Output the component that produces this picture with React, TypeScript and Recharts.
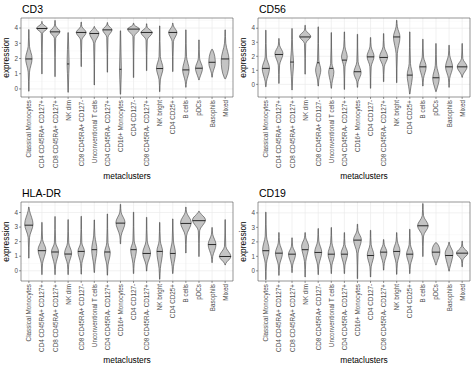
import React from 'react';
import { ComposedChart, Scatter, XAxis, YAxis, CartesianGrid, ReferenceArea } from 'recharts';

const categories = [
  'Classical Monocytes', 'CD4 CD45RA+ CD127+', 'CD8 CD45RA+ CD127+', 'NK dim',
  'CD8 CD45RA+ CD127-', 'Unconventional T cells', 'CD4 CD45RA- CD127+', 'CD16+ Monocytes',
  'CD4 CD127-', 'CD8 CD45RA- CD127+', 'NK bright', 'CD4 CD25+', 'B cells', 'pDCs',
  'Basophils', 'Mixed',
];

// each violin: [min, bodyLow, peak, bodyHigh, max, peakHalfWidth, median]
const cd3Violins = [
  [-0.15, 1.1, 2.0, 2.8, 3.9, 0.25, 1.97],
  [0.99, 3.66, 3.99, 4.28, 4.43, 0.41, 3.97],
  [0.81, 3.33, 3.77, 4.14, 4.5, 0.38, 3.75],
  [-0.22, 1.0, 1.6, 2.6, 3.7, 0.08, 1.64],
  [1.47, 3.22, 3.71, 4.1, 4.39, 0.38, 3.71],
  [0.26, 3.0, 3.66, 4.0, 4.1, 0.36, 3.64],
  [1.1, 3.4, 3.88, 4.2, 4.36, 0.36, 3.88],
  [-0.35, 0.6, 1.3, 2.1, 3.82, 0.07, 1.29],
  [0.75, 3.44, 3.93, 4.2, 4.32, 0.46, 3.93],
  [1.2, 3.22, 3.71, 4.05, 4.28, 0.44, 3.71],
  [-0.18, 0.6, 1.36, 2.13, 4.14, 0.25, 1.34],
  [1.14, 3.11, 3.71, 4.14, 4.32, 0.32, 3.71],
  [0.11, 0.48, 1.25, 2.13, 3.88, 0.25, 1.25],
  [0.59, 0.7, 1.36, 2.0, 3.22, 0.27, 1.36],
  [0.77, 1.03, 1.69, 2.57, 2.61, 0.25, 1.75],
  [0.66, 0.7, 1.9, 3.0, 3.88, 0.3, 1.97],
];

const cd56Violins = [
  [-0.17, 0.19, 1.14, 1.96, 3.86, 0.28, 1.14],
  [0.07, 1.37, 2.2, 2.79, 3.27, 0.31, 2.13],
  [-0.4, 0.54, 1.5, 2.44, 3.98, 0.12, 1.59],
  [0.73, 2.91, 3.43, 3.86, 4.21, 0.43, 3.38],
  [-0.12, 0.31, 1.02, 1.73, 4.1, 0.2, 1.54],
  [-0.28, 0.07, 0.9, 1.49, 3.69, 0.2, 1.14],
  [-0.36, 1.25, 1.96, 2.67, 3.74, 0.22, 1.73],
  [-0.21, 0.19, 0.83, 1.61, 3.57, 0.28, 0.9],
  [-0.28, 1.25, 2.0, 2.67, 3.34, 0.27, 1.96],
  [0.19, 1.25, 1.96, 2.67, 3.62, 0.31, 1.92],
  [0.12, 2.2, 3.38, 4.1, 4.57, 0.25, 3.38],
  [-0.69, -0.4, 0.66, 1.49, 3.74, 0.2, 0.66],
  [-0.12, 0.43, 1.25, 1.96, 3.22, 0.25, 1.25],
  [-0.52, -0.4, 0.43, 1.37, 2.91, 0.25, 0.47],
  [-0.21, 0.43, 1.25, 2.08, 2.79, 0.27, 1.25],
  [0.5, 0.66, 1.25, 1.85, 2.91, 0.38, 1.25],
];

const hladrViolins = [
  [0.87, 2.27, 3.2, 4.14, 4.37, 0.32, 3.13],
  [-0.26, 0.51, 1.45, 2.15, 3.32, 0.3, 1.38],
  [-0.26, 0.4, 1.33, 1.92, 3.72, 0.27, 1.29],
  [-0.26, 0.44, 1.22, 1.92, 3.51, 0.27, 1.15],
  [-0.23, 0.51, 1.33, 1.92, 3.74, 0.25, 1.33],
  [-0.12, 0.4, 1.45, 2.39, 3.49, 0.2, 1.45],
  [-0.3, 0.4, 1.22, 1.92, 3.9, 0.22, 1.29],
  [1.85, 2.39, 3.32, 4.02, 4.56, 0.35, 3.27],
  [-0.19, 0.51, 1.45, 2.04, 4.02, 0.22, 1.45],
  [-0.02, 0.4, 1.22, 2.04, 3.67, 0.3, 1.19],
  [-0.58, 0.16, 1.33, 2.04, 3.32, 0.22, 1.33],
  [-0.19, 0.28, 1.22, 2.04, 3.56, 0.2, 1.19],
  [1.22, 2.39, 3.32, 4.02, 4.37, 0.41, 3.25],
  [0.98, 2.74, 3.49, 4.02, 4.09, 0.5, 3.44],
  [0.56, 0.98, 1.8, 2.5, 2.97, 0.3, 1.8],
  [0.4, 0.51, 0.98, 1.68, 3.51, 0.44, 0.98],
];

const cd19Violins = [
  [-0.61, 0.52, 1.46, 2.4, 4.05, 0.25, 1.39],
  [-0.31, 0.4, 1.22, 1.93, 2.64, 0.27, 1.22],
  [-0.12, 0.4, 1.15, 1.69, 2.28, 0.27, 1.15],
  [-0.42, 0.64, 1.69, 2.28, 2.64, 0.27, 1.46],
  [-0.26, 0.4, 1.29, 2.05, 2.92, 0.27, 1.27],
  [-0.19, 0.4, 1.15, 1.93, 2.99, 0.25, 1.15],
  [-0.19, 0.4, 1.22, 1.81, 2.64, 0.25, 1.15],
  [-0.54, 1.22, 2.16, 2.75, 3.22, 0.3, 2.12],
  [-0.42, 0.28, 1.1, 1.81, 2.8, 0.25, 1.06],
  [0.05, 0.52, 1.29, 1.81, 2.16, 0.25, 1.29],
  [-0.24, 0.52, 1.39, 2.05, 2.64, 0.25, 1.34],
  [-0.19, 0.4, 1.15, 1.81, 2.87, 0.25, 1.15],
  [0.99, 2.4, 3.11, 3.81, 4.64, 0.41, 3.11],
  [0.4, 0.52, 1.29, 1.93, 1.95, 0.3, 1.29],
  [-0.02, 0.16, 1.22, 1.81, 1.98, 0.3, 1.06],
  [0.28, 0.75, 1.22, 1.69, 2.05, 0.44, 1.22],
];

const yTicks = [0, 1, 2, 3, 4];
const xTicks = categories.map((_, i) => i + 1);

const FONT = '"Liberation Sans", Arial, Helvetica, sans-serif';
const W = 237;
const H = 184;
const TAIL = 0.015;
const SHOULDER = 0.05;

type P = { x: number; y: number };

// monotone (Fritsch-Carlson) tangents of x as a function of y
function tangents(pts: P[]) {
  const n = pts.length;
  const m: number[] = [];
  for (let k = 0; k < n - 1; k++) {
    m.push((pts[k + 1].x - pts[k].x) / (pts[k + 1].y - pts[k].y));
  }
  const t: number[] = new Array(n).fill(0);
  t[0] = m[0];
  t[n - 1] = m[n - 2];
  for (let k = 1; k < n - 1; k++) {
    if (m[k - 1] * m[k] <= 0) t[k] = 0;
    else t[k] = (m[k - 1] + m[k]) / 2;
  }
  for (let k = 0; k < n - 1; k++) {
    if (m[k] === 0) {
      t[k] = 0;
      t[k + 1] = 0;
      continue;
    }
    const a = t[k] / m[k];
    const b = t[k + 1] / m[k];
    const s = a * a + b * b;
    if (s > 9) {
      const tau = 3 / Math.sqrt(s);
      t[k] = tau * a * m[k];
      t[k + 1] = tau * b * m[k];
    }
  }
  return t;
}

function dedupe(pts: P[]) {
  const out: P[] = [];
  pts.forEach((p) => {
    if (!out.length || Math.abs(out[out.length - 1].y - p.y) > 1e-6) out.push(p);
  });
  return out;
}

function sidePath(ptsIn: P[], start: boolean) {
  const pts = dedupe(ptsIn);
  let d = start ? `M${pts[0].x},${pts[0].y}` : `L${pts[0].x},${pts[0].y}`;
  if (pts.length < 2) return d;
  const t = tangents(pts);
  for (let k = 0; k < pts.length - 1; k++) {
    const h = pts[k + 1].y - pts[k].y;
    const c1x = pts[k].x + (t[k] * h) / 3;
    const c1y = pts[k].y + h / 3;
    const c2x = pts[k + 1].x - (t[k + 1] * h) / 3;
    const c2y = pts[k + 1].y - h / 3;
    d += `C${c1x},${c1y} ${c2x},${c2y} ${pts[k + 1].x},${pts[k + 1].y}`;
  }
  return d;
}

function widthAt(v: number[], y: number) {
  const raw = [v[0], v[1], v[2], v[3], v[4]].map((yy, k) => ({ y: yy, x: [TAIL, SHOULDER, v[5], SHOULDER, TAIL][k] }));
  const pts = dedupe(raw);
  const t = tangents(pts);
  for (let k = 0; k < pts.length - 1; k++) {
    if (y >= pts[k].y && y <= pts[k + 1].y) {
      const h = pts[k + 1].y - pts[k].y;
      const s = (y - pts[k].y) / h;
      const h00 = 2 * s * s * s - 3 * s * s + 1;
      const h10 = s * s * s - 2 * s * s + s;
      const h01 = -2 * s * s * s + 3 * s * s;
      const h11 = s * s * s - s * s;
      return h00 * pts[k].x + h10 * h * t[k] + h01 * pts[k + 1].x + h11 * h * t[k + 1];
    }
  }
  return TAIL;
}

function violinPoints(v: number[], i: number) {
  const cx = i + 1;
  const ys = [v[0], v[1], v[2], v[3], v[4]];
  const ws = [TAIL, SHOULDER, v[5], SHOULDER, TAIL];
  const left = ys.map((y, k) => ({ x: cx - ws[k], y }));
  const right = ys.map((y, k) => ({ x: cx + ws[k], y })).reverse();
  const mw = widthAt(v, v[6]);
  return [...left, ...right, { x: cx - mw, y: v[6] }, { x: cx + mw, y: v[6] }];
}

const renderViolin = (p: any) => {
  const pts: P[] = p.points || [];
  const n = pts.length - 2;
  if (n < 6) return <g />;
  const half = n / 2;
  const leftSide = pts.slice(0, half);
  const rightSide = pts.slice(half, n);
  const d = sidePath(leftSide, true) + sidePath(rightSide, false) + 'Z';
  const m1 = pts[n];
  const m2 = pts[n + 1];
  return (
    <g>
      <path d={d} fill="#C4C4C4" stroke="#333333" strokeWidth={0.55} strokeLinejoin="round" />
      <line x1={m1.x} y1={m1.y} x2={m2.x} y2={m2.y} stroke="#000000" strokeWidth={0.8} />
    </g>
  );
};

const XTick = (props: any) => {
  const { x, y, payload } = props;
  return (
    <text
      transform={`translate(${x},${y}) rotate(-90)`}
      x={0}
      y={0}
      textAnchor="end"
      dominantBaseline="central"
      fontSize={6.3}
      fill="#4D4D4D"
      fontFamily={FONT}
    >
      {categories[payload.value - 1]}
    </text>
  );
};

function Panel({ title, violins, domain, left, top }: any) {
  const minor = [-0.5, 0.5, 1.5, 2.5, 3.5, 4.5].filter((v) => v > domain[0] && v < domain[1]);
  return (
    <div style={{ position: 'absolute', left, top, width: W, height: H }}>
      <ComposedChart width={W} height={H} margin={{ top: 18, right: 4, bottom: 0, left: 0 }}>
        <XAxis
          type="number"
          dataKey="x"
          domain={[0.4, 16.6]}
          ticks={xTicks}
          interval={0}
          allowDataOverflow
          height={87}
          tick={<XTick />}
          tickSize={2}
          tickMargin={1}
          axisLine={false}
          tickLine={{ stroke: '#333333', strokeWidth: 0.5 }}
        />
        <YAxis
          type="number"
          dataKey="y"
          domain={domain}
          ticks={yTicks}
          allowDataOverflow
          width={21}
          tickSize={2}
          tickMargin={1}
          axisLine={false}
          tickLine={{ stroke: '#333333', strokeWidth: 0.5 }}
          tick={{ fontSize: 6.3, fill: '#4D4D4D', fontFamily: FONT }}
        />
        <CartesianGrid horizontalValues={minor} vertical={false} stroke="#F3F3F3" strokeWidth={0.4} />
        <CartesianGrid stroke="#EBEBEB" strokeWidth={0.7} horizontalValues={yTicks} verticalValues={xTicks} />
        {violins.map((v: number[], i: number) => (
          <Scatter
            key={i}
            data={violinPoints(v, i)}
            isAnimationActive={false}
            line={renderViolin}
            shape={() => <g />}
            fill="#C4C4C4"
          />
        ))}
        <ReferenceArea
          x1={0.4}
          x2={16.6}
          y1={domain[0]}
          y2={domain[1]}
          fill="none"
          fillOpacity={0}
          stroke="#4D4D4D"
          strokeWidth={0.6}
          ifOverflow="visible"
        />
      </ComposedChart>
      <svg width={W} height={H} style={{ position: 'absolute', left: 0, top: 0, pointerEvents: 'none' }}>
        <text x={22} y={12.5} fontSize={10.5} fill="#000" fontFamily={FONT}>{title}</text>
        <text x={127} y={179} fontSize={8.4} fill="#000" textAnchor="middle" fontFamily={FONT}>metaclusters</text>
        <text
          transform={`translate(8.5,57.5) rotate(-90)`}
          x={0}
          y={0}
          fontSize={8.4}
          fill="#000"
          textAnchor="middle"
          fontFamily={FONT}
        >
          expression
        </text>
      </svg>
    </div>
  );
}

export default function App() {
  return (
    <div style={{ position: 'absolute', left: 0, top: 0, width: 474, height: 368, background: '#fff' }}>
      <Panel title="CD3" violins={cd3Violins} domain={[-0.53, 4.66]} left={0} top={0} />
      <Panel title="CD56" violins={cd56Violins} domain={[-0.9, 4.73]} left={237} top={0} />
      <Panel title="HLA-DR" violins={hladrViolins} domain={[-0.7, 4.72]} left={0} top={184} />
      <Panel title="CD19" violins={cd19Violins} domain={[-0.7, 4.75]} left={237} top={184} />
    </div>
  );
}
